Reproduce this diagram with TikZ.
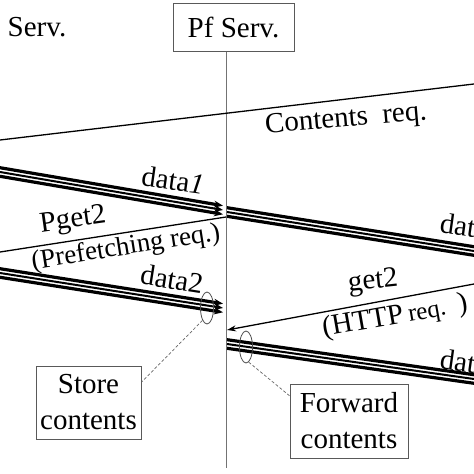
\documentclass[tikz,border=0pt]{standalone}
\usepackage{fontspec}
\setmainfont{Liberation Serif}
\usetikzlibrary{arrows.meta, shapes.geometric}
\tikzset{x=1pt, y=-1pt, % Drawn in pixel units, y pointing down
every node/.style={font=\fontsize{29}{36}\selectfont},
box/.style={ % Lifeline heads and notes
draw=black!65, line width=1pt, align=center, inner sep=0pt},
life/.style={draw=black!55, line width=0.9pt},
msg/.style={draw, line width=1.3pt}, % Single requests
dat/.style={draw}, % One strand of a data transfer
tip/.style={-{Stealth[length=9pt,width=7pt]}},
ring/.style={ellipse, draw=black!70, line width=0.8pt,
minimum width=13pt, minimum height=32pt, inner sep=0pt},
note/.style={draw=black!60, dash pattern=on 3pt off 2pt, line width=0.7pt}}

\begin{document}
\begin{tikzpicture}
    \useasboundingbox (0,0) rectangle (474,474);
    \clip (0,0) rectangle (474,474);

    \node (serv) at (37,27) {Serv.};
    \node[box, minimum width=121pt, minimum height=48pt] (pf) at (233.5,27) {Pf Serv.};
    \coordinate (lifeB) at (226,468);
    \draw[life] (pf.south -| lifeB) -- (lifeB);

    % Contents request
    \coordinate (crR) at (474,84);
    \coordinate (crL) at (0,140);
    \draw[msg] (crR) -- (crL);
    \node[rotate=5] (crlbl) at (346,120) {Contents\ \ req.};

    % data1 and its forwarding
    \coordinate (d1L) at (0,172);
    \coordinate (d1P) at (223,210);
    \coordinate (d1Q) at (227,212);
    \coordinate (d1R) at (474,251);
    \foreach \s/\w in {-4.3/3.2, 0/2, 4.3/3.2} {
        \draw[dat, tip, line width=\w, transform canvas={yshift=\s}] (d1L) -- (d1P);
        \draw[dat, line width=\w, transform canvas={yshift=\s}] (d1Q) -- (d1R);
    }
    \node[rotate=-8] (d1lbl) at (173,180) {data\textit{1}};
    \node[rotate=-8, anchor=west] (d1lblR) at (437,222) {data\textit{1}};

    % Prefetching request
    \coordinate (p2P) at (226,217);
    \coordinate (p2L) at (0,252);
    \draw[msg] (p2P) -- (p2L);
    \node[rotate=8] (p2lbl) at (73,221) {Pget2};
    \node[rotate=9, font=\fontsize{27}{33}\selectfont] (p2sub) at (126,248) {(Prefetching req.)};

    % data2 and its forwarding
    \coordinate (d2L) at (0,273);
    \coordinate (d2P) at (223,308);
    \coordinate (d2Q) at (227,344);
    \coordinate (d2R) at (474,379);
    \foreach \s/\w in {-4.3/3.2, 0/2, 4.3/3.2} {
        \draw[dat, tip, line width=\w, transform canvas={yshift=\s}] (d2L) -- (d2P);
        \draw[dat, line width=\w, transform canvas={yshift=\s}] (d2Q) -- (d2R);
    }
    \node[rotate=-9] (d2lbl) at (172,279) {data2};
    \node[rotate=-8, anchor=west] (d2lblR) at (437,358) {data2};

    % HTTP request
    \coordinate (g2R) at (474,284);
    \coordinate (g2P) at (227,330);
    \draw[msg, -{Stealth[length=9pt,width=6pt]}] (g2R) -- (g2P);
    \node[rotate=6] (g2lbl) at (373,282) {get2};
    \node[rotate=10] (g2sub) at (395,317) {(HTTP\,{\fontsize{25}{30}\selectfont req.}\ \,)};

    % Notes
    \node[ring] (st) at (207,308) {};
    \node[ring] (fc) at (246,347) {};
    \node[box, minimum width=105pt, minimum height=73pt] (store) at (88.5,402.5) {Store\\contents};
    \node[box, minimum width=118pt, minimum height=74pt] (fwd) at (349,421) {Forward\\contents};
    \draw[note] (st.250) -- (store.21);
    \draw[note] (fc.280) -- (fwd.157);

\end{tikzpicture}
\end{document}
